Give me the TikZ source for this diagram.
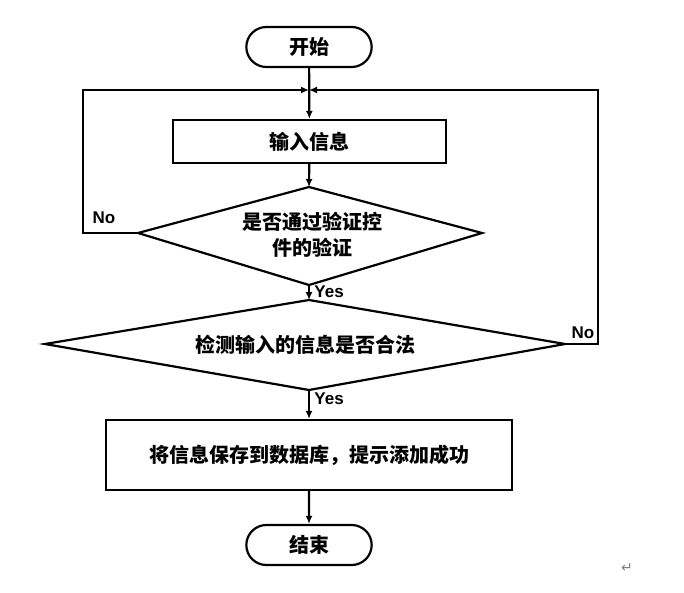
\documentclass[tikz,border=0pt]{standalone}
\usepackage{fontspec}
\setmainfont{Liberation Sans}
\newfontfamily\cjk{Noto Sans CJK SC}
\newfontfamily\dv{DejaVu Sans}
\usetikzlibrary{shapes.misc,arrows.meta}
\begin{document}
\begin{tikzpicture}[x=1pt,y=-1pt,
  line width=2.2pt, >={Latex[length=8pt,width=7pt]},
  cj/.style={font=\cjk\bfseries\fontsize{20}{26}\selectfont,align=center},
  term/.style={draw,cj,rounded rectangle,minimum width=132pt,minimum height=40pt},
  box/.style={draw,cj,minimum height=43pt},
  lab/.style={font=\bfseries\fontsize{17}{19}\selectfont}]
\useasboundingbox (0,0) rectangle (684,593);
\node[term] (s) at (309,47) {开始};
\node[box,minimum width=273pt] (in) at (309.5,141.5) {输入信息};
\coordinate (d1n) at (309,187); \coordinate (d1s) at (309,285);
\coordinate (d1w) at (138,233); \coordinate (d1e) at (482,233);
\draw (d1n) -- (d1e) -- (d1s) -- (d1w) -- cycle;
\node[cj] (t1) at (312,235) {是否通过验证控\\件的验证};
\coordinate (d2n) at (309,300); \coordinate (d2s) at (309,390);
\coordinate (d2w) at (45,344); \coordinate (d2e) at (565,344);
\draw (d2n) -- (d2e) -- (d2s) -- (d2w) -- cycle;
\node[cj] (t2) at (305,345) {检测输入的信息是否合法};
\node[box,minimum width=406pt,minimum height=70pt] (sv) at (309,455) {将信息保存到数据库，提示添加成功};
\node[term] (e) at (309,545) {结束};
\coordinate (j) at (309,90);
\coordinate (l) at (83,90);
\coordinate (r) at (598,90);
\draw[->] (s) -- (in);
\draw[->] (in) -- (d1n);
\draw[->] (d1s) -- (d2n) node[lab,pos=0.45,right,xshift=1pt] {Yes};
\draw[->] (d2s) -- (sv) node[lab,pos=0.3,right,xshift=1pt] {Yes};
\draw[->] (sv) -- (e);
\draw[->] (d1w) -| (l) -- (j);
\draw[->] (d2e) -| (r) -- (j);
\node[lab] (n1) at (104,218) {No};
\node[lab] (n2) at (583,333) {No};
\node[font=\dv\fontsize{14}{16}\selectfont,text=gray] (m) at (627,568) {↵};
\end{tikzpicture}
\end{document}
